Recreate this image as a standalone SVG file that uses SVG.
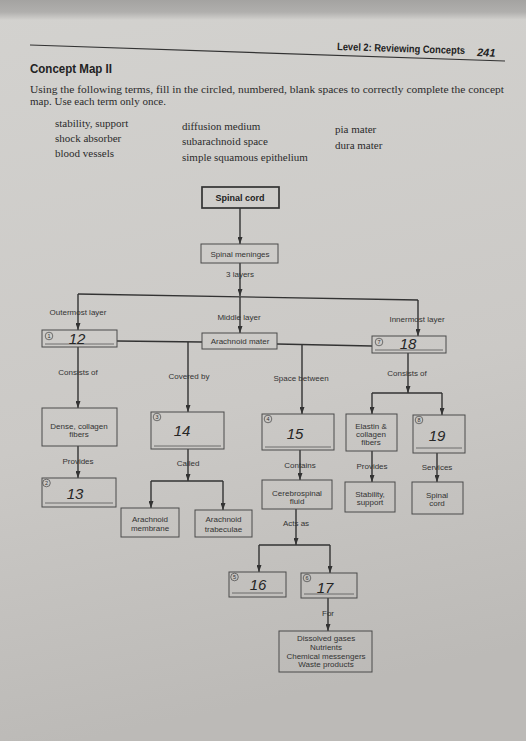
<svg xmlns="http://www.w3.org/2000/svg" width="526" height="741" viewBox="0 0 526 741">
<defs>
<linearGradient id="pg" x1="0" y1="0" x2="0.15" y2="1">
<stop offset="0" stop-color="#d3d2cf"/>
<stop offset="0.6" stop-color="#cbc9c6"/>
<stop offset="1" stop-color="#bcbab7"/>
</linearGradient>
<linearGradient id="top" x1="0" y1="0" x2="0" y2="1">
<stop offset="0" stop-color="#a4a3a1"/>
<stop offset="0.6" stop-color="#b0afad"/>
<stop offset="1" stop-color="#d2d1ce"/>
</linearGradient>
<marker id="ah" viewBox="0 0 10 10" refX="10" refY="5" markerWidth="7" markerHeight="5" markerUnits="userSpaceOnUse" orient="auto" preserveAspectRatio="none">
<path d="M0,0 L10,5 L0,10 z" fill="#333"/>
</marker>
<style>
.bx{fill:none;stroke:#4a4a4a;stroke-width:1}
.bxb{fill:none;stroke:#333;stroke-width:1.7}
.t{font-family:"Liberation Sans",Arial,sans-serif;font-size:8px;fill:#333;text-anchor:middle}
.tb{font-family:"Liberation Sans",Arial,sans-serif;font-size:9px;font-weight:bold;fill:#222;text-anchor:middle}
.hw{font-family:"Liberation Sans",Arial,sans-serif;font-size:15px;fill:#262626;text-anchor:middle;font-style:italic}
.cn{font-family:"Liberation Sans",Arial,sans-serif;font-size:5.5px;fill:#333;text-anchor:middle}
.cc{fill:none;stroke:#444;stroke-width:0.7}
.ul{stroke:#555;stroke-width:0.8}
.ln{fill:none;stroke:#333;stroke-width:1.4}
.ar{fill:none;stroke:#333;stroke-width:1.4;marker-end:url(#ah)}
.sr{font-family:"Liberation Serif","Times New Roman",serif;font-size:11px;fill:#2b2b2b}
.hd{font-family:"Liberation Sans",Arial,sans-serif;font-weight:bold;fill:#222}
</style>
</defs>
<rect x="0" y="0" width="526" height="741" fill="url(#pg)"/>
<rect x="0" y="0" width="526" height="20" fill="url(#top)"/>

<g id="header">
<line x1="30" y1="45" x2="505" y2="61" stroke="#333" stroke-width="1.2"/>
<text class="hd" x="337" y="50" font-size="10.5" textLength="128" lengthAdjust="spacingAndGlyphs" transform="rotate(1.8 337 50)">Level 2: Reviewing Concepts</text>
<text class="hd" x="477" y="56" font-size="11" font-style="italic" transform="rotate(1.8 477 56)">241</text>
<text class="hd" x="30" y="73" font-size="12.5" textLength="82" lengthAdjust="spacingAndGlyphs">Concept Map II</text>
<text class="sr" x="30" y="93" textLength="474" lengthAdjust="spacingAndGlyphs">Using the following terms, fill in the circled, numbered, blank spaces to correctly complete the concept</text>
<text class="sr" x="30" y="105">map. Use each term only once.</text>
<text class="sr" x="55" y="127">stability, support</text>
<text class="sr" x="55" y="142">shock absorber</text>
<text class="sr" x="55" y="157">blood vessels</text>
<text class="sr" x="182" y="130">diffusion medium</text>
<text class="sr" x="182" y="145">subarachnoid space</text>
<text class="sr" x="182" y="161">simple squamous epithelium</text>
<text class="sr" x="335" y="133">pia mater</text>
<text class="sr" x="335" y="149">dura mater</text>
</g>

<g id="connectors">
<path class="ar" d="M240,208 V244"/>
<path class="ar" d="M240,263 V296"/>
<path class="ln" d="M78,294 L418,300"/>
<path class="ar" d="M78,294 V330"/>
<path class="ar" d="M240,297 V333"/>
<path class="ar" d="M418,300 V336"/>
<path class="ln" d="M117,341 L202,342"/>
<path class="ln" d="M277,344 L372,346"/>
<path class="ar" d="M188,342 V412"/>
<path class="ar" d="M302,345 V414"/>
<path class="ar" d="M78,347 V408"/>
<path class="ar" d="M408,353 V393"/>
<path class="ln" d="M372,393 H442"/>
<path class="ar" d="M372,393 V414"/>
<path class="ar" d="M442,393 V415"/>
<path class="ar" d="M78,446 V478"/>
<path class="ar" d="M188,449 V481"/>
<path class="ln" d="M151,481 H223"/>
<path class="ar" d="M151,481 V508"/>
<path class="ar" d="M223,481 V510"/>
<path class="ar" d="M300,450 V480"/>
<path class="ar" d="M372,451 V482"/>
<path class="ar" d="M437,453 V482"/>
<path class="ar" d="M296,509 V545"/>
<path class="ln" d="M259,545 H330"/>
<path class="ar" d="M259,545 V572"/>
<path class="ar" d="M330,545 V573"/>
<path class="ar" d="M328,598 V631"/>
<text class="t" x="240" y="277">3 layers</text>
<text class="t" x="78" y="315">Outermost layer</text>
<text class="t" x="239" y="320">Middle layer</text>
<text class="t" x="417" y="322">Innermost layer</text>
<text class="t" x="78" y="375">Consists of</text>
<text class="t" x="189" y="379">Covered by</text>
<text class="t" x="301" y="381">Space between</text>
<text class="t" x="407" y="376">Consists of</text>
<text class="t" x="78" y="464">Provides</text>
<text class="t" x="188" y="466">Called</text>
<text class="t" x="300" y="468">Contains</text>
<text class="t" x="372" y="469">Provides</text>
<text class="t" x="437" y="470">Services</text>
<text class="t" x="296" y="526">Acts as</text>
<text class="t" x="328" y="616">For</text>
</g>

<g id="n-spinal-cord">
<rect class="bxb" x="202" y="187" width="77" height="21"/>
<text class="tb" x="240" y="200.5">Spinal cord</text>
</g>
<g id="n-meninges">
<rect class="bx" x="201" y="244" width="77" height="19"/>
<text class="t" x="240" y="256.5">Spinal meninges</text>
</g>
<g id="n-12">
<rect class="bx" x="42" y="330" width="75" height="17"/>
<line class="ul" x1="45" y1="344" x2="114" y2="344"/>
<circle class="cc" cx="49" cy="336" r="3.8"/><text class="cn" x="49" y="338">1</text>
<text class="hw" x="77" y="344">12</text>
</g>
<g id="n-arachnoid-mater">
<rect class="bx" x="202" y="333" width="75" height="16"/>
<text class="t" x="240" y="344">Arachnoid mater</text>
</g>
<g id="n-18">
<rect class="bx" x="372" y="336" width="74" height="17"/>
<line class="ul" x1="375" y1="350" x2="443" y2="350"/>
<circle class="cc" cx="379" cy="342" r="3.8"/><text class="cn" x="379" y="344">7</text>
<text class="hw" x="408" y="349">18</text>
</g>
<g id="n-dense">
<rect class="bx" x="42" y="408" width="75" height="38"/>
<text class="t" x="79" y="429">Dense, collagen</text>
<text class="t" x="79" y="437">fibers</text>
</g>
<g id="n-13">
<rect class="bx" x="42" y="478" width="74" height="29"/>
<line class="ul" x1="45" y1="503" x2="113" y2="503"/>
<circle class="cc" cx="46.5" cy="483" r="3.8"/><text class="cn" x="46.5" y="485">2</text>
<text class="hw" x="75" y="499" font-size="16">13</text>
</g>
<g id="n-14">
<rect class="bx" x="151" y="412" width="73" height="37"/>
<line class="ul" x1="154" y1="446" x2="221" y2="446"/>
<circle class="cc" cx="157" cy="417" r="3.8"/><text class="cn" x="157" y="419">3</text>
<text class="hw" x="182" y="436" font-size="17">14</text>
</g>
<g id="n-15">
<rect class="bx" x="262" y="414" width="72" height="36"/>
<line class="ul" x1="265" y1="447" x2="331" y2="447"/>
<circle class="cc" cx="268" cy="419" r="3.8"/><text class="cn" x="268" y="421">4</text>
<text class="hw" x="295" y="439" font-size="17">15</text>
</g>
<g id="n-elastin">
<rect class="bx" x="346" y="414" width="51" height="37"/>
<text class="t" x="371" y="429">Elastin &amp;</text>
<text class="t" x="371" y="437">collagen</text>
<text class="t" x="371" y="445">fibers</text>
</g>
<g id="n-19">
<rect class="bx" x="413" y="415" width="52" height="38"/>
<line class="ul" x1="416" y1="448" x2="462" y2="448"/>
<circle class="cc" cx="419" cy="420" r="3.8"/><text class="cn" x="419" y="422">8</text>
<text class="hw" x="437" y="441" font-size="18">19</text>
</g>
<g id="n-arachnoid-membrane">
<rect class="bx" x="121" y="508" width="58" height="29"/>
<text class="t" x="150" y="522">Arachnoid</text>
<text class="t" x="150" y="531">membrane</text>
</g>
<g id="n-arachnoid-trabeculae">
<rect class="bx" x="195" y="510" width="57" height="27"/>
<text class="t" x="223.5" y="522">Arachnoid</text>
<text class="t" x="223.5" y="532">trabeculae</text>
</g>
<g id="n-csf">
<rect class="bx" x="262" y="480" width="70" height="29"/>
<text class="t" x="297" y="496">Cerebrospinal</text>
<text class="t" x="297" y="504">fluid</text>
</g>
<g id="n-stability">
<rect class="bx" x="345" y="482" width="50" height="30"/>
<text class="t" x="370" y="497">Stability,</text>
<text class="t" x="370" y="505">support</text>
</g>
<g id="n-spinal-cord-2">
<rect class="bx" x="412" y="482" width="51" height="32"/>
<text class="t" x="437" y="498">Spinal</text>
<text class="t" x="437" y="506">cord</text>
</g>
<g id="n-16">
<rect class="bx" x="229" y="572" width="57" height="25"/>
<line class="ul" x1="232" y1="593" x2="283" y2="593"/>
<circle class="cc" cx="234.5" cy="577" r="3.8"/><text class="cn" x="234.5" y="579">5</text>
<text class="hw" x="258" y="590">16</text>
</g>
<g id="n-17">
<rect class="bx" x="301" y="573" width="56" height="25"/>
<line class="ul" x1="304" y1="594" x2="354" y2="594"/>
<circle class="cc" cx="307" cy="578" r="3.8"/><text class="cn" x="307" y="580">6</text>
<text class="hw" x="325" y="593" font-size="16">17</text>
</g>
<g id="n-dissolved">
<rect class="bx" x="279" y="631" width="93" height="41"/>
<text class="t" x="326" y="641">Dissolved gases</text>
<text class="t" x="326" y="650">Nutrients</text>
<text class="t" x="326" y="659">Chemical messengers</text>
<text class="t" x="326" y="667">Waste products</text>
</g>
</svg>
